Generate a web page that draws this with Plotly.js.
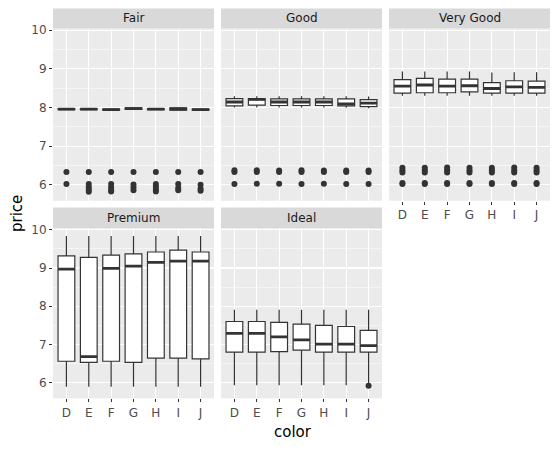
<!DOCTYPE html>
<html>
<head>
<meta charset="utf-8">
<script src="https://cdn.plot.ly/plotly-3.0.1.min.js"></script>
<style>html,body{margin:0;padding:0;background:#fff;} #plot{width:559px;height:450px;}</style>
</head>
<body>
<div id="plot"></div>
<script>
// ---- data ----
const colors = ['D', 'E', 'F', 'G', 'H', 'I', 'J'];
const cuts = ['Fair', 'Good', 'Very Good', 'Premium', 'Ideal'];

const fairLo  = [7.935, 7.935, 7.925, 7.945, 7.935, 7.925, 7.925];
const fairQ1  = [7.94, 7.94, 7.93, 7.95, 7.94, 7.93, 7.93];
const fairMed = [7.955, 7.955, 7.945, 7.97, 7.955, 7.96, 7.945];
const fairQ3  = [7.965, 7.965, 7.96, 7.99, 7.965, 7.99, 7.96];
const fairHi  = [7.97, 7.97, 7.965, 7.995, 7.97, 7.995, 7.965];
const fairOut = [[6.33, 6.02], [6.33, 6.02, 5.94, 5.87, 5.82], [6.33, 6.02, 5.93, 5.86, 5.83],
                 [6.33, 6.01, 5.93, 5.86], [6.33, 6.02, 5.95, 5.88, 5.83], [6.33, 6.02, 5.92, 5.86], [6.33, 6.0, 5.9, 5.85]];

const goodLo  = [8.0, 8.0, 8.0, 8.0, 8.0, 7.99, 7.98];
const goodQ1  = [8.04, 8.06, 8.05, 8.05, 8.05, 8.04, 8.02];
const goodMed = [8.14, 8.21, 8.14, 8.14, 8.14, 8.09, 8.11];
const goodQ3  = [8.23, 8.23, 8.22, 8.22, 8.22, 8.22, 8.2];
const goodHi  = [8.29, 8.29, 8.29, 8.29, 8.29, 8.29, 8.28];
const goodOut = [[6.38, 6.33, 6.02], [6.38, 6.33, 6.03], [6.37, 6.33, 6.03], [6.38, 6.33, 6.02],
                 [6.37, 6.33, 6.03], [6.37, 6.33, 6.02], [6.37, 6.33, 6.02]];

const vgLo  = [8.3, 8.3, 8.3, 8.3, 8.3, 8.3, 8.3];
const vgQ1  = [8.37, 8.38, 8.38, 8.4, 8.37, 8.37, 8.37];
const vgMed = [8.55, 8.58, 8.55, 8.56, 8.49, 8.53, 8.52];
const vgQ3  = [8.72, 8.75, 8.73, 8.73, 8.64, 8.69, 8.68];
const vgHi  = [8.93, 8.93, 8.93, 8.93, 8.9, 8.91, 8.91];
const vgOut = [[6.44, 6.38, 6.32, 6.05, 6.02], [6.44, 6.38, 6.32, 6.05, 6.02], [6.45, 6.38, 6.32, 6.05, 6.02],
               [6.44, 6.38, 6.32, 6.05, 6.02], [6.44, 6.38, 6.32, 6.05, 6.02], [6.45, 6.38, 6.32, 6.05, 6.02],
               [6.44, 6.38, 6.32, 6.05, 6.02]];

const premLo  = [5.89, 5.89, 5.89, 5.89, 5.89, 5.89, 5.89];
const premQ1  = [6.56, 6.53, 6.56, 6.53, 6.64, 6.64, 6.62];
const premMed = [8.97, 6.68, 8.99, 9.05, 9.15, 9.18, 9.18];
const premQ3  = [9.32, 9.28, 9.34, 9.37, 9.42, 9.47, 9.42];
const premHi  = [9.84, 9.84, 9.84, 9.84, 9.84, 9.84, 9.84];
const premOut = [[], [], [], [], [], [], []];

const idealLo  = [5.93, 5.93, 5.93, 5.93, 5.93, 5.93, 5.97];
const idealQ1  = [6.80, 6.80, 6.81, 6.85, 6.80, 6.80, 6.80];
const idealMed = [7.29, 7.29, 7.20, 7.12, 7.01, 7.01, 6.97];
const idealQ3  = [7.60, 7.60, 7.58, 7.53, 7.50, 7.47, 7.37];
const idealHi  = [7.91, 7.91, 7.91, 7.91, 7.91, 7.91, 7.91];
const idealOut = [[], [], [], [], [], [], [5.92]];

const yTicks = [6, 7, 8, 9, 10];

// ---- layout geometry (pixels of 559x450) ----
const W = 559, H = 450;
const colPx = [[53, 214], [221, 382], [389, 550]];
const rowPx = [[28.5, 200.7], [228.3, 398.3]];
const stripPx = [[8.5, 28.5], [207.5, 228.3]];
const px2x = p => p / W;
const px2y = p => 1 - p / H;

const panels = [
  {lo: fairLo, q1: fairQ1, med: fairMed, q3: fairQ3, hi: fairHi, out: fairOut, r: 0, c: 0},
  {lo: goodLo, q1: goodQ1, med: goodMed, q3: goodQ3, hi: goodHi, out: goodOut, r: 0, c: 1},
  {lo: vgLo, q1: vgQ1, med: vgMed, q3: vgQ3, hi: vgHi, out: vgOut, r: 0, c: 2},
  {lo: premLo, q1: premQ1, med: premMed, q3: premQ3, hi: premHi, out: premOut, r: 1, c: 0},
  {lo: idealLo, q1: idealQ1, med: idealMed, q3: idealQ3, hi: idealHi, out: idealOut, r: 1, c: 1}
];
const showX = [false, false, true, true, true];
const showY = [true, false, false, true, false];

const boxW = 0.75;
const ink = '#333333';
const font = 'DejaVu Sans';
const pos = colors.map((c, i) => i + 1);

const traces = [];
const layout = {
  width: W, height: H,
  margin: {l: 0, r: 0, t: 0, b: 0},
  paper_bgcolor: '#ffffff',
  plot_bgcolor: '#ebebeb',
  showlegend: false,
  font: {family: font, size: 12, color: '#4d4d4d'},
  shapes: [],
  annotations: []
};

panels.forEach((p, k) => {
  const ax = k === 0 ? '' : String(k + 1);
  const xa = 'x' + ax, ya = 'y' + ax;
  traces.push({
    type: 'box', x: pos, q1: p.q1, median: p.med, q3: p.q3,
    lowerfence: p.lo, upperfence: p.hi,
    width: boxW, whiskerwidth: 0,
    fillcolor: '#ffffff', line: {color: ink, width: 1.2},
    boxpoints: false, hoverinfo: 'skip',
    xaxis: xa, yaxis: ya
  });
  // thick median segments
  const mx = [], my = [];
  p.med.forEach((m, i) => {
    mx.push(pos[i] - boxW / 2, pos[i] + boxW / 2, null);
    my.push(m, m, null);
  });
  traces.push({type: 'scatter', mode: 'lines', x: mx, y: my,
    line: {color: ink, width: 2.8}, hoverinfo: 'skip', xaxis: xa, yaxis: ya});
  // outliers
  const ox = [], oy = [];
  p.out.forEach((arr, i) => arr.forEach(v => { ox.push(pos[i]); oy.push(v); }));
  if (ox.length) {
    traces.push({type: 'scatter', mode: 'markers', x: ox, y: oy,
      marker: {color: ink, size: 6}, hoverinfo: 'skip', xaxis: xa, yaxis: ya});
  }

  const xd = colPx[p.c], yd = rowPx[p.r];
  layout['xaxis' + ax] = {
    domain: [px2x(xd[0]), px2x(xd[1])],
    anchor: ya, range: [0.4, 7.6],
    tickvals: pos, ticktext: colors,
    showticklabels: showX[k],
    ticks: showX[k] ? 'outside' : '', ticklen: 3, tickwidth: 1, tickcolor: ink,
    tickfont: {family: font, size: 12, color: '#4d4d4d'},
    showgrid: true, gridcolor: '#ffffff', gridwidth: 1.1,
    zeroline: false, showline: false, fixedrange: true
  };
  layout['yaxis' + ax] = {
    domain: [px2y(yd[1]), px2y(yd[0])],
    anchor: xa, range: [5.59, 10.04],
    tickvals: yTicks,
    showticklabels: showY[k],
    ticks: showY[k] ? 'outside' : '', ticklen: 3, tickwidth: 1, tickcolor: ink,
    tickfont: {family: font, size: 12, color: '#4d4d4d'},
    showgrid: true, gridcolor: '#ffffff', gridwidth: 1.1,
    minor: {tickvals: [5.5, 6.5, 7.5, 8.5, 9.5], showgrid: true, gridcolor: '#ffffff', gridwidth: 0.5, ticks: ''},
    zeroline: false, showline: false, fixedrange: true
  };
  // strip
  const sp = stripPx[p.r];
  layout.shapes.push({type: 'rect', xref: 'paper', yref: 'paper',
    x0: px2x(xd[0]), x1: px2x(xd[1]), y0: px2y(sp[1]), y1: px2y(sp[0]),
    fillcolor: '#d9d9d9', line: {width: 0}, layer: 'below'});
  layout.annotations.push({xref: 'paper', yref: 'paper',
    x: px2x((xd[0] + xd[1]) / 2), y: px2y((sp[0] + sp[1]) / 2),
    text: cuts[k], showarrow: false, xanchor: 'center', yanchor: 'middle',
    font: {family: font, size: 12, color: '#1a1a1a'}});
});

// axis titles
layout.annotations.push({xref: 'paper', yref: 'paper', x: px2x(293), y: px2y(432),
  text: 'color', showarrow: false, xanchor: 'center', yanchor: 'middle',
  font: {family: font, size: 15, color: '#000000'}});
layout.annotations.push({xref: 'paper', yref: 'paper', x: px2x(17), y: px2y(214),
  text: 'price', showarrow: false, textangle: -90, xanchor: 'center', yanchor: 'middle',
  font: {family: font, size: 15, color: '#000000'}});

Plotly.newPlot('plot', traces, layout, {staticPlot: true, displayModeBar: false});
</script>
</body>
</html>
